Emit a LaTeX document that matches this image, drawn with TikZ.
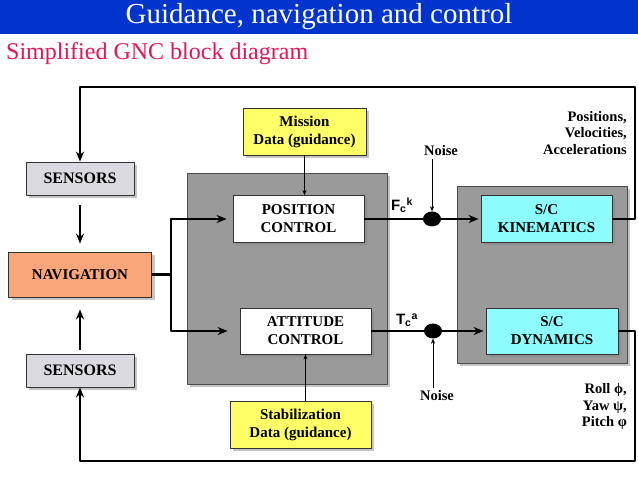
\documentclass[tikz,border=0pt]{standalone}
\usepackage{fontspec}
\setmainfont{Liberation Serif}
\setsansfont{Liberation Sans}
\usetikzlibrary{arrows.meta,shadows,shapes.geometric}
\definecolor{banner}{RGB}{0,52,204}
\definecolor{subred}{RGB}{226,22,88}
\definecolor{boxyellow}{RGB}{255,255,104}
\definecolor{boxcyan}{RGB}{140,252,252}
\definecolor{boxorange}{RGB}{250,166,122}
\definecolor{boxgrey}{RGB}{154,154,154}
\definecolor{sensgrey}{RGB}{218,218,224}
\begin{document}
\begin{tikzpicture}[x=1pt,y=-1pt,>={Stealth[length=10pt,width=8pt]},line join=round,
	blk/.style={draw=black!80,line width=0.8pt,inner sep=0pt,align=center,
		font=\fontsize{15}{18}\selectfont\bfseries,
		drop shadow={shadow xshift=3pt,shadow yshift=-3pt,opacity=0.45}},
	bg/.style={blk,fill=boxgrey,draw=black!70},
	flow/.style={line width=2.4pt},
	feed/.style={thin,-{Stealth[length=5pt,width=4pt]}},
	junc/.style={ellipse,fill=black,minimum width=18pt,minimum height=15pt,inner sep=0pt},
	note/.style={inner sep=0pt,align=center,font=\fontsize{14.5}{16.5}\selectfont\bfseries},
	lbl/.style={inner sep=0pt,font=\sffamily\bfseries\fontsize{15}{15}\selectfont}]
	\useasboundingbox (0,0) rectangle (638,478);
	\fill[white] (0,0) rectangle (638,478);
	% title
	\fill[banner] (0,0) rectangle (638,34);
	\node[text=white,font=\fontsize{29}{30}\selectfont] (title) at (319,17) {Guidance, navigation and control};
	\node[text=subred,anchor=west,inner sep=0pt,font=\fontsize{24}{26}\selectfont] (sub) at (6,54) {Simplified GNC block diagram};
	% grey blocks
	\node[bg,minimum width=200pt,minimum height=211pt] (ctrlBg) at (287,278.5) {};
	\node[bg,minimum width=170pt,minimum height=177pt] (scBg) at (542,274.5) {};
	% boxes
	\node[blk,fill=sensgrey,minimum width=108pt,minimum height=33pt,font=\fontsize{16}{18}\selectfont\bfseries] (sensTop) at (80,178.5) {SENSORS};
	\node[blk,fill=boxorange,minimum width=143pt,minimum height=45pt] (nav) at (80,274.5) {NAVIGATION};
	\node[blk,fill=sensgrey,minimum width=108pt,minimum height=33pt,font=\fontsize{16}{18}\selectfont\bfseries] (sensBot) at (80,370.5) {SENSORS};
	\node[blk,fill=boxyellow,minimum width=123pt,minimum height=47pt] (mission) at (304.5,131.5) {Mission\\Data (guidance)};
	\node[blk,fill=white,minimum width=131pt,minimum height=47pt] (posCtrl) at (298.5,219) {POSITION\\CONTROL};
	\node[blk,fill=white,minimum width=131pt,minimum height=46pt] (attCtrl) at (305.5,331) {ATTITUDE\\CONTROL};
	\node[blk,fill=boxyellow,minimum width=141pt,minimum height=47pt] (stab) at (300.5,424.5) {Stabilization\\Data (guidance)};
	\node[blk,fill=boxcyan,minimum width=131pt,minimum height=47pt] (kin) at (546.5,219) {S/C\\KINEMATICS};
	\node[blk,fill=boxcyan,minimum width=132pt,minimum height=46pt] (dyn) at (552,331) {S/C\\DYNAMICS};
	\node[junc] (sumF) at (432,219) {};
	\node[junc] (sumT) at (433,331) {};
	% texts
	\node[note] (noiseF) at (441,151) {Noise};
	\node[note] (noiseT) at (437,396) {Noise};
	\node[lbl] (fLbl) at (402,205) {F\textsubscript{c}\textsuperscript{k}};
	\node[lbl] (tLbl) at (407,320) {T\textsubscript{c}\textsuperscript{a}};
	\node[note,anchor=east,align=right] (posTxt) at (627,133) {Positions,\\Velocities,\\Accelerations};
	\node[note,anchor=east,align=right] (rollTxt) at (627,407) {Roll ϕ,\\Yaw ψ,\\Pitch φ};
	% connectors
	\coordinate (split) at (171,274.5);
	\coordinate (topR) at (635,87); \coordinate (topL) at (80,87);
	\coordinate (botR) at (635,461); \coordinate (botL) at (80,461);
	\draw[flow,->,shorten <=10pt,shorten >=8pt] (sensTop.south) -- (nav.north);
	\draw[flow,->,shorten <=4pt,shorten >=12pt] (sensBot.north) -- (nav.south);
	\draw[flow,->,shorten >=6pt] (nav.east) -- (split) |- (posCtrl.west);
	\draw[flow,->,shorten >=12pt] (split) |- (attCtrl.west);
	\draw[flow] (posCtrl.east) -- (sumF);
	\draw[flow,->,shorten >=2pt] (sumF) -- (kin.west);
	\draw[flow] (attCtrl.east) -- (sumT);
	\draw[flow,->,shorten >=2pt] (sumT) -- (dyn.west);
	\draw[flow,->] (kin.east) -| (topR) -- (topL) -- (sensTop.north);
	\draw[flow,->] (dyn.east) -| (botR) -- (botL) -- (sensBot.south);
	\draw[feed] (mission.south) -- (mission.south |- posCtrl.north);
	\draw[feed] (stab.north -| attCtrl) -- (attCtrl.south);
	\draw[feed] (noiseF.south -| sumF) ++(0,3) -- (sumF.north);
	\draw[feed] (noiseT.north -| sumT) ++(0,-3) -- (sumT.south);
\end{tikzpicture}
\end{document}
